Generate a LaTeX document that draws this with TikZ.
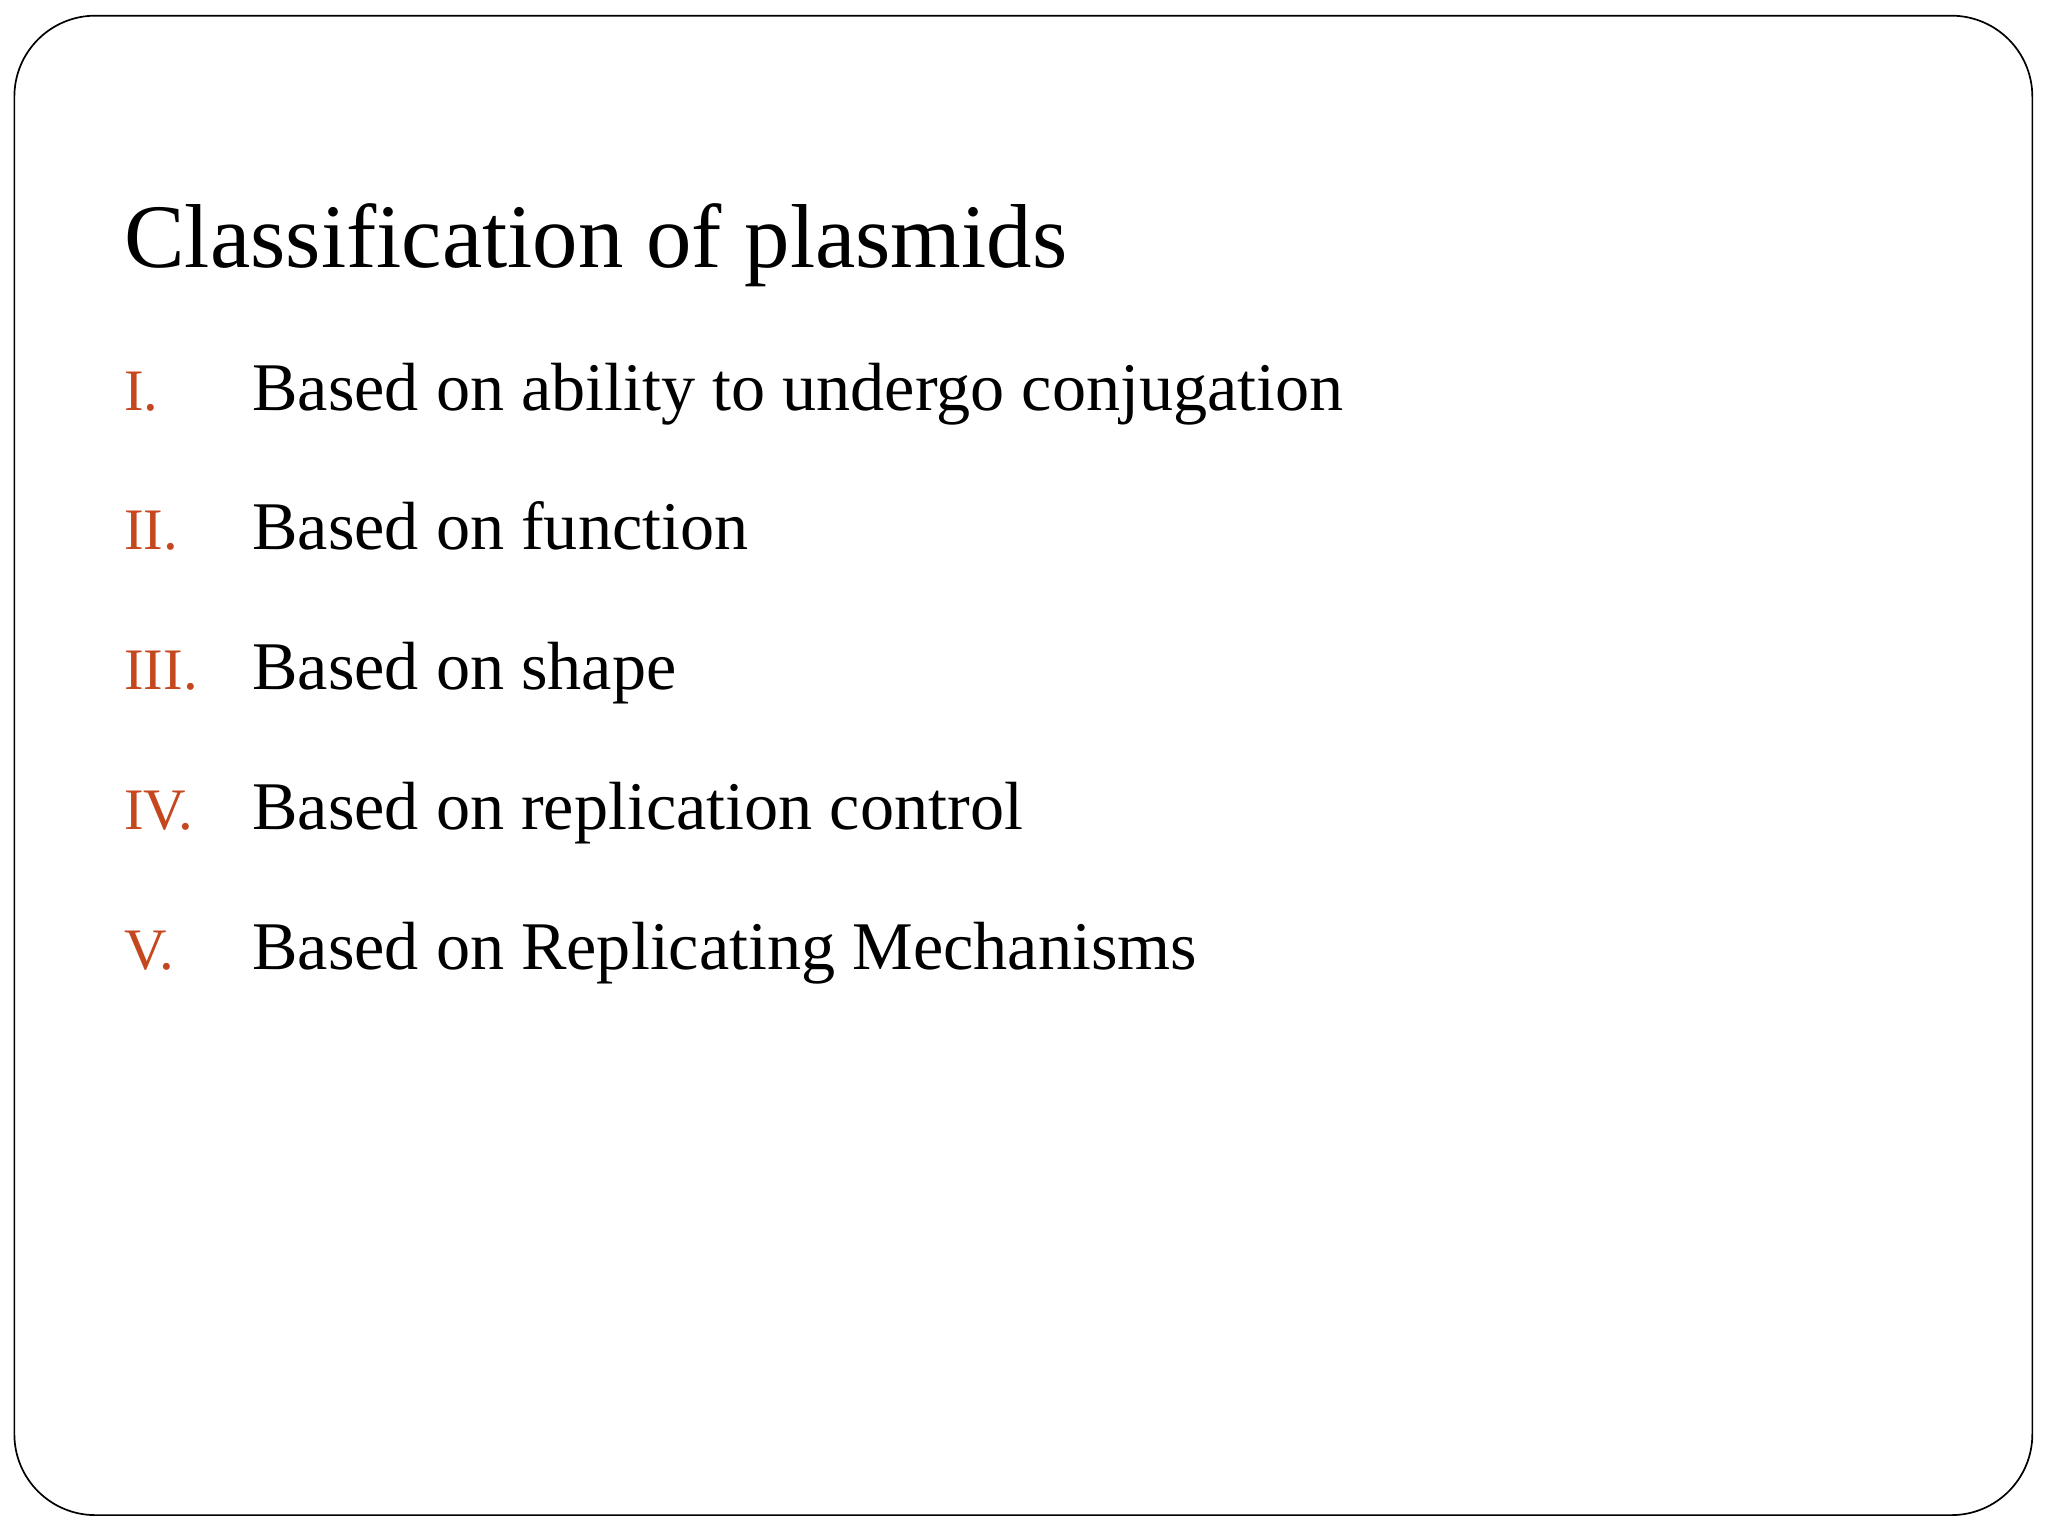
\documentclass[tikz,border=0pt]{standalone}
\usepackage{fontspec}
\setmainfont{Liberation Serif}
\definecolor{numred}{HTML}{C4471D}
\begin{document}
\begin{tikzpicture}[x=1pt,y=-1pt,
  ttl/.style={anchor=base west,inner sep=0,font=\fontsize{69.5}{75}\selectfont},
  num/.style={anchor=base west,inner sep=0,text=numred,font=\fontsize{45}{52}\selectfont},
  itm/.style={anchor=base west,inner sep=0,font=\fontsize{52.2}{58}\selectfont}]
\useasboundingbox (0,0) rectangle (1568,1176);
\draw[line width=1.3pt,rounded corners=62pt,fill=white] (11,12) rectangle (1556,1160);
\node[ttl] (title) at (95,205) {Classification of plasmids};
\foreach \r/\t [count=\i] in {I./Based on ability to undergo conjugation,II./Based on function,III./Based on shape,IV./Based on replication control,V./Based on Replicating Mechanisms}{
  \node[num] (n\i) at (95,207+107*\i) {\r};
  \node[itm] (t\i) at (193,207+107*\i) {\t};
}
\end{tikzpicture}
\end{document}
